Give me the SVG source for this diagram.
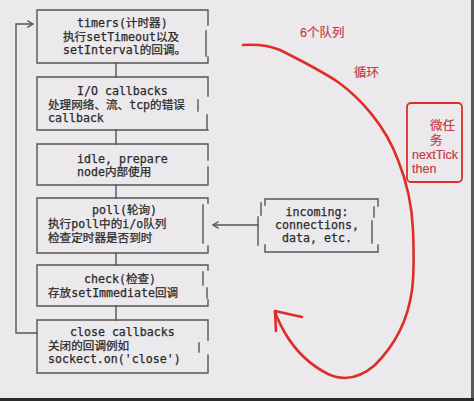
<svg xmlns="http://www.w3.org/2000/svg" width="474" height="401" viewBox="0 0 474 401">
<style>
.bg{fill:#ebe9ec}
.ln{fill:none;stroke:#555;stroke-width:1.4;stroke-linecap:square}
.t{font-family:"DejaVu Sans Mono","Noto Sans CJK SC",monospace;font-size:11.6px;fill:#2a2a2a;stroke:#2a2a2a;stroke-width:0.25}
.rt{font-family:"Liberation Sans","Noto Sans CJK SC",sans-serif;font-size:12.5px;fill:#c93a44;stroke:#c93a44;stroke-width:0.2}
.red{fill:none;stroke:#dc2f28;stroke-width:2.6;stroke-linecap:round;stroke-linejoin:round}
</style>
<rect class="bg" x="0" y="0" width="474" height="401"/>
<rect x="471" y="0" width="3" height="398" fill="#5a5a5c"/>
<rect x="0" y="398" width="474" height="3" fill="#2a2a2a"/>

<g id="connectors">
  <path class="ln" d="M116,63 V77 M116,130 V144 M116,185 V198 M116,253 V265 M116,306 V320"/>
  <path class="ln" d="M37,333 H16 V24 H32"/>
  <path class="ln" d="M28,21 L33,24 L28,27"/>
  <path class="ln" d="M258,225 H214"/>
  <path class="ln" d="M218,222 L213,225 L218,228"/>
</g>

<g id="timers">
  <path class="ln" d="M208,10 H37 V63 H208 M208,10 V25 M206,31 V56 M208,57 V63"/>
  <text class="t" x="77" y="27">timers(计时器)</text>
  <text class="t" x="63" y="41">执行setTimeout以及</text>
  <text class="t" x="63" y="54">setInterval的回调。</text>
</g>

<g id="io-callbacks">
  <path class="ln" d="M208,77 H37 V130 H208 M208,77 V96 M198,100 V111 M207,115 V130"/>
  <text class="t" x="77" y="95">I/O callbacks</text>
  <text class="t" x="48" y="109">处理网络、流、tcp的错误</text>
  <text class="t" x="48" y="122">callback</text>
</g>

<g id="idle-prepare">
  <path class="ln" d="M208,144 H37 V185 H208 M208,144 V160 M208,167 V185"/>
  <text class="t" x="77" y="163">idle, prepare</text>
  <text class="t" x="77" y="176">node内部使用</text>
</g>

<g id="poll">
  <path class="ln" d="M208,198 H37 V253 H208 M208,198 V203 M203,205 V243 M208,246 V253"/>
  <text class="t" x="92" y="214">poll(轮询)</text>
  <text class="t" x="48" y="228">执行poll中的i/o队列</text>
  <text class="t" x="48" y="242">检查定时器是否到时</text>
</g>

<g id="check">
  <path class="ln" d="M208,265 H37 V306 H208 M208,265 V270 M203,272 V285 M207,288 V298 M208,300 V306"/>
  <text class="t" x="84" y="283">check(检查)</text>
  <text class="t" x="48" y="297">存放setImmediate回调</text>
</g>

<g id="close-callbacks">
  <path class="ln" d="M208,320 H37 V373 H208 M208,320 V340 M199,343 V352 M208,355 V373"/>
  <text class="t" x="70" y="336">close callbacks</text>
  <text class="t" x="48" y="350">关闭的回调例如</text>
  <text class="t" x="48" y="363">sockect.on('close')</text>
</g>

<g id="incoming">
  <path class="ln" d="M265,205 V199 H378 V206 M374,207 V217 M372,221 V243 M378,245 V252 H265 V245 M258,217 V245 M261,203 V215"/>
  <text class="t" x="317" y="216" text-anchor="middle">incoming:</text>
  <text class="t" x="317" y="229" text-anchor="middle">connections,</text>
  <text class="t" x="317" y="242" text-anchor="middle">data, etc.</text>
</g>

<g id="annotations">
  <text class="rt" x="300" y="37" font-size="12">6个队列</text>
  <text class="rt" x="354" y="77" font-size="12">循环</text>
  <path class="red" d="M243,45 C258,44 268,45 280,50 C300,60 320,70 338,82 C360,98 385,125 398,160 C408,185 412,205 413,230 C414,255 414,275 412,290 C408,320 395,345 375,365 C360,378 345,382 328,374 C310,365 295,350 285,333 C280,324 277,318 275,312"/>
  <path class="red" d="M302,317 L275,311 L276,331"/>
</g>

<g id="microtask">
  <rect x="407" y="103" width="55" height="79" rx="4" fill="none" stroke="#dc2f28" stroke-width="1.8"/>
  <text class="rt" x="430" y="130">微任</text>
  <text class="rt" x="430" y="145">务</text>
  <text class="rt" x="412" y="159">nextTick</text>
  <text class="rt" x="412" y="173">then</text>
</g>
</svg>
